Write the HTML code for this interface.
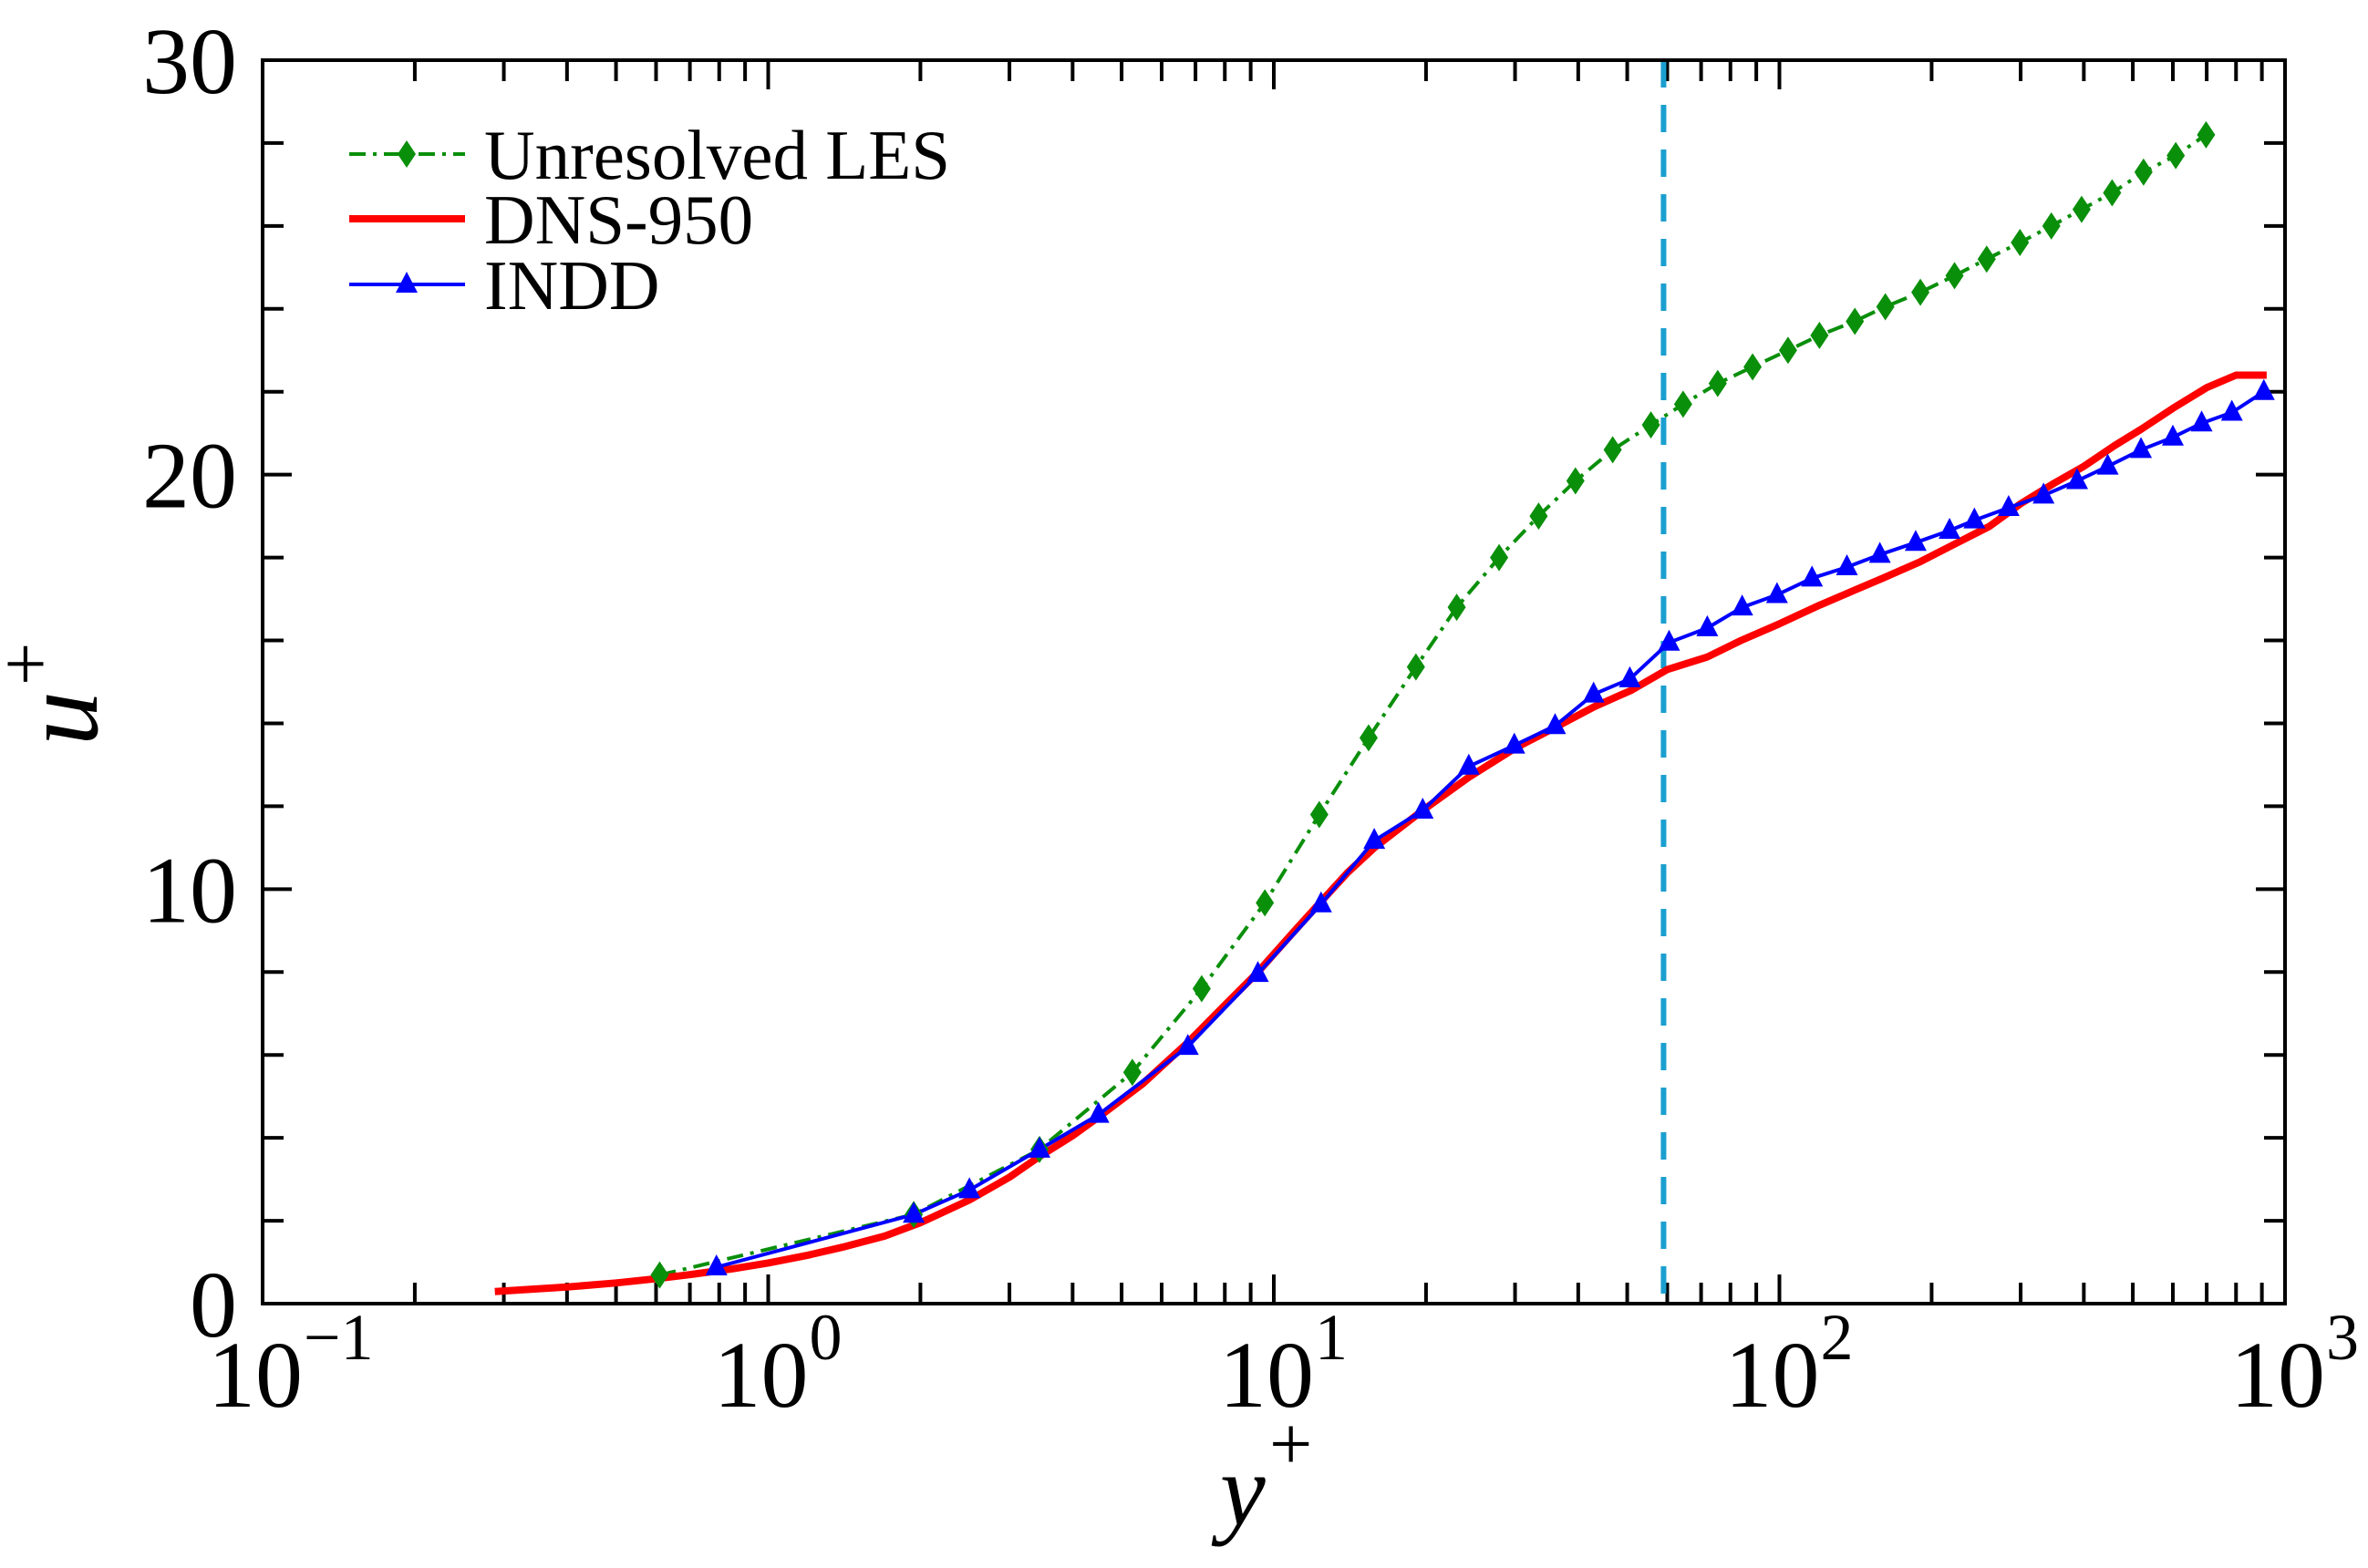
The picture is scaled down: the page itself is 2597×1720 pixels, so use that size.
<!DOCTYPE html>
<html><head><meta charset="utf-8"><style>
html,body{margin:0;padding:0;background:#fff;}
svg{display:block;font-family:"Liberation Serif",serif;}
</style></head><body>
<svg id="chart" width="2597" height="1720" viewBox="0 0 2597 1720" xmlns="http://www.w3.org/2000/svg">
<g id="plot"></g>
</svg>
<script>
const lesX=[0.61,1.94,3.44,5.25,7.2,9.6,12.3,15.4,19.1,23,27.9,33.4,39.5,46.8,55.7,64.5,75.5,88.5,104,120,141,162,190,222,257,299,345,396,455,525,608,698];
const lesU=[0.69,2.15,3.72,5.58,7.6,9.67,11.8,13.65,15.36,16.8,18.0,19.0,19.85,20.6,21.2,21.7,22.2,22.6,23.0,23.36,23.7,24.05,24.4,24.8,25.2,25.6,26.0,26.4,26.8,27.3,27.7,28.2];
const inddX=[0.79,1.94,2.5,3.44,4.5,6.76,9.3,12.4,15.8,19.7,24.3,29.9,36,42.9,50.6,60.5,72,84.4,98.9,116,136,158,186,217,243,284,333,388,446,519,600,684,785,908];
const inddU=[0.88,2.15,2.74,3.72,4.56,6.2,7.96,9.64,11.17,11.9,12.96,13.47,13.94,14.7,15.07,15.95,16.3,16.8,17.1,17.5,17.77,18.07,18.36,18.65,18.9,19.2,19.5,19.85,20.2,20.6,20.9,21.24,21.5,22.0];
const dnsX=[0.288,0.4,0.5,0.6,0.7,0.85,1.0,1.2,1.4,1.7,2.0,2.5,3.0,3.44,4.0,4.5,5.5,6.76,8,9.3,11,12.4,14,15.8,19.7,24.3,30,36,43,51,60,72,84,100,120,140,160,190,220,260,300,350,400,460,520,600,700,800,920];
const dnsU=[0.29,0.4,0.5,0.6,0.7,0.84,0.98,1.17,1.36,1.63,1.95,2.5,3.05,3.55,4.05,4.5,5.3,6.3,7.2,8.0,9.0,9.7,10.4,11.0,11.9,12.7,13.4,13.9,14.4,14.8,15.3,15.6,16.0,16.4,16.85,17.2,17.5,17.9,18.3,18.75,19.3,19.8,20.2,20.7,21.1,21.6,22.1,22.4,22.4];
const refLineX=59;
const yTicks=[0,10,20,30];
const xDecades=[-1,0,1,2,3];

const L=288,R=2506,T=66,B=1430;
const X=v=>L+(Math.log10(v)+1)*(R-L)/4;
const Y=u=>B-u*(B-T)/30;
const NS="http://www.w3.org/2000/svg";
const g=document.getElementById('plot');
function mk(tag,attrs,parent){const e=document.createElementNS(NS,tag);for(const k in attrs)e.setAttribute(k,attrs[k]);(parent||g).appendChild(e);return e;}

for(let d=-1;d<3;d++){for(let m=1;m<10;m++){const v=m*Math.pow(10,d);const x=X(v);const len=m===1?32:23;
 const t1=mk('line',{x1:x,x2:x,y1:B,y2:B-len,stroke:'#000','stroke-width':4});
 
 
 const t2=mk('line',{x1:x,x2:x,y1:T,y2:T+len,stroke:'#000','stroke-width':4});
 
 }}
for(let u=0;u<=30;u+=2){const y=Y(u);const len=u%10===0?32:23;
 const a=mk('line',{x1:L,x2:L+len,y1:y,y2:y,stroke:'#000','stroke-width':4});
 
 
 const b=mk('line',{x1:R,x2:R-len,y1:y,y2:y,stroke:'#000','stroke-width':4});
 
 }

yTicks.forEach(u=>{const t=mk('text',{x:260,y:Y(u)+36,'text-anchor':'end','font-size':104,fill:'#000'});t.textContent=String(u);
 
 });
xDecades.forEach(d=>{const x=X(Math.pow(10,d));const t=mk('text',{x:x-60,y:1543,'font-size':104,fill:'#000'});t.textContent='10';
 
 
 const s=mk('text',{x:x+45,y:1491,'font-size':72,fill:'#000'});s.textContent=d===-1?'\u22121':String(d);
 
 });

const rl=mk('line',{x1:X(refLineX),x2:X(refLineX),y1:T,y2:B,stroke:'#1a9fcf','stroke-width':6,'stroke-dasharray':'30,19'});



function pts(xs,us){return xs.map((v,i)=>X(v).toFixed(1)+','+Y(us[i]).toFixed(1)).join(' ');}
const gl=mk('polyline',{points:pts(lesX,lesU),fill:'none',stroke:'#0a8f0a','stroke-width':4,'stroke-dasharray':'18,8,4,8'});


const rd=mk('polyline',{points:pts(dnsX,dnsU),fill:'none',stroke:'#ff0000','stroke-width':8,'stroke-linejoin':'round'});


const bl=mk('polyline',{points:pts(inddX,inddU),fill:'none',stroke:'#0000ff','stroke-width':4});


lesX.forEach((v,i)=>{const x=X(v),y=Y(lesU[i]);const p=mk('polygon',{points:`${x},${y-15} ${x+10},${y} ${x},${y+15} ${x-10},${y}`,fill:'#0a8f0a'});
 
 });
inddX.forEach((v,i)=>{const x=X(v),y=Y(inddU[i]);const p=mk('polygon',{points:`${x},${y-14} ${x+12},${y+9} ${x-12},${y+9}`,fill:'#0000ff'});
 
 });

const fr=mk('rect',{x:L,y:T,width:R-L,height:B-T,fill:'none',stroke:'#000','stroke-width':4});



const leg=[['Unresolved LES','#0a8f0a',169,'les'],['DNS-950','#ff0000',240,'dns'],['INDD','#0000ff',312,'indd']];
leg.forEach(([lab,c,y,k])=>{
 const ln=mk('line',{x1:383,x2:510,y1:y,y2:y,stroke:c,'stroke-width':k==='dns'?8:4,'stroke-dasharray':k==='les'?'18,8,4,8':'none'});
 
 
 if(k==='les'){const p=mk('polygon',{points:`446,${y-15} 456,${y} 446,${y+15} 436,${y}`,fill:c});
 }
 if(k==='indd'){const p=mk('polygon',{points:`446,${y-14} 458,${y+9} 434,${y+9}`,fill:c});
 }
 const t=mk('text',{x:531,y:y+27,'font-size':77,fill:'#000'});t.textContent=lab;
 
 
});

const xt=mk('text',{x:1338,y:1672,'font-size':112,'font-style':'italic',fill:'#000'});xt.textContent='y';


const xs=mk('text',{x:1392,y:1612,'font-size':84,fill:'#000'});xs.textContent='+';


const yt=mk('text',{x:0,y:0,'font-size':120,'font-style':'italic',fill:'#000',transform:'translate(106,818) rotate(-90)'});


yt.innerHTML='u<tspan font-size="84" font-style="normal" dy="-50" dx="6">+</tspan>';
</script>
</body></html>
